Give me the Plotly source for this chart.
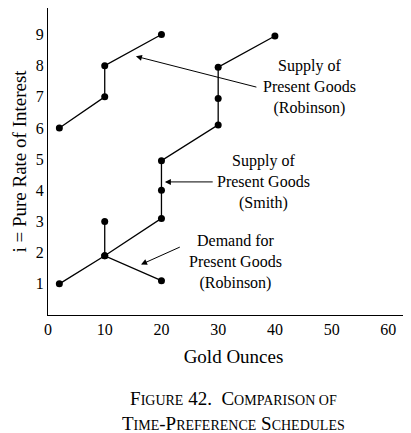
import plotly.graph_objects as go

# Supply of present goods (Robinson)
rob_sup_x = [2, 10, 10, 20]
rob_sup_y = [6, 7, 8, 9]
# Supply of present goods (Smith)
smith_x = [2, 10, 20, 20, 20, 30, 30, 30, 40]
smith_y = [1, 1.9, 3.1, 4, 4.95, 6.1, 6.95, 7.95, 8.95]
# Demand for present goods (Robinson)
rob_dem_x = [10, 10, 20]
rob_dem_y = [3, 1.9, 1.1]

FONT = "Liberation Serif"
fig = go.Figure()
for xs, ys in [(rob_sup_x, rob_sup_y), (smith_x, smith_y), (rob_dem_x, rob_dem_y)]:
    fig.add_trace(go.Scatter(x=xs, y=ys, mode="lines+markers",
                             line=dict(color="black", width=1.3),
                             marker=dict(color="black", size=7),
                             showlegend=False))

notes = [
    ("Supply of<br>Present Goods<br>(Robinson)", 15.5, 8.3, 37, 7.3, 37.5, 7.3),
    ("Supply of<br>Present Goods<br>(Smith)", 20.6, 4.27, 29.3, 4.27, 29.5, 4.27),
    ("Demand for<br>Present Goods<br>(Robinson)", 16.4, 1.62, 23.5, 2.2, 24.5, 1.7),
]
for txt, x, y, ax, ay, tx, ty in notes:
    fig.add_annotation(x=x, y=y, ax=ax, ay=ay, axref="x", ayref="y", text="",
                       showarrow=True, arrowhead=2, arrowsize=1.2,
                       arrowwidth=1, arrowcolor="black")
    fig.add_annotation(x=tx, y=ty, text=txt, showarrow=False, xanchor="left",
                       align="center", font=dict(family=FONT, size=16, color="black"))

sc = "<span style='font-size:14px'>"
caption = (f"F{sc}IGURE</span> 42.  C{sc}OMPARISON OF</span><br>"
           f"T{sc}IME</span>-P{sc}REFERENCE</span> S{sc}CHEDULES</span>")
fig.add_annotation(x=0.5, y=-0.23, xref="paper", yref="paper", text=caption,
                   showarrow=False, yanchor="top",
                   font=dict(family=FONT, size=19, color="black"))

fig.update_layout(
    width=411, height=433, paper_bgcolor="white", plot_bgcolor="white",
    margin=dict(l=40, r=0, t=0, b=126),
    font=dict(family=FONT, size=16, color="black"),
    xaxis=dict(range=[0, 65.4], tickvals=[0, 10, 20, 30, 40, 50, 60],
               showgrid=False, zeroline=False, showline=True, linecolor="black",
               automargin=False, title=dict(text="Gold Ounces", standoff=12)),
    yaxis=dict(range=[0, 9.85], tickvals=list(range(1, 10)),
               showgrid=False, zeroline=False, showline=True, linecolor="black",
               automargin=False, title=dict(text="i = Pure Rate of Interest", standoff=4)),
)
fig.write_html("out.html")
